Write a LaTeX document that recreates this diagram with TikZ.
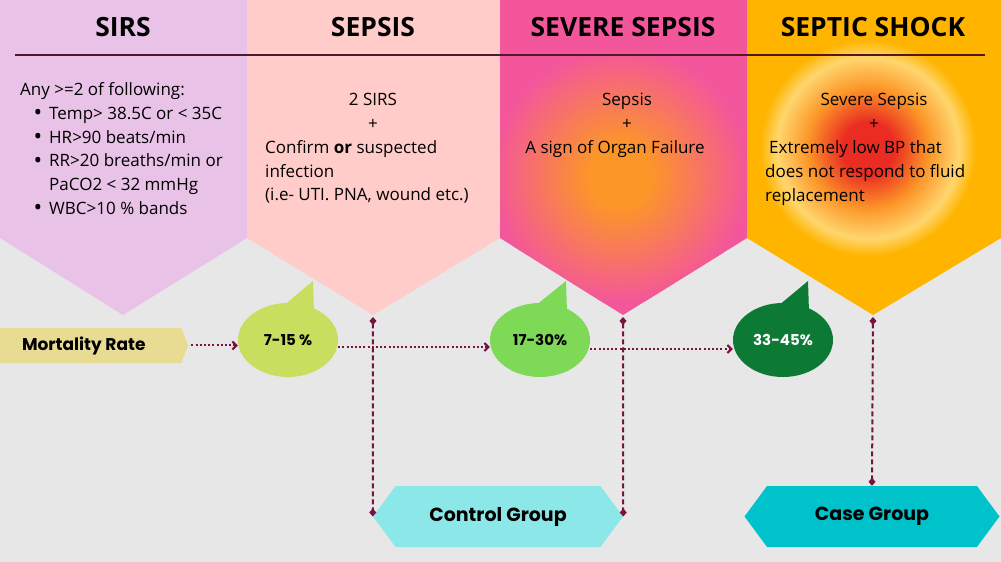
\documentclass[tikz,border=0pt]{standalone}
\usepackage{fontspec}
\setmainfont{Open Sans}
\newfontfamily\headfont{Open Sans}
\newfontfamily\tagfont{Poppins}
\usetikzlibrary{shapes.geometric,shapes.symbols,arrows.meta,calc}

\definecolor{severefill}{RGB}{243,86,155}
\definecolor{shockfill}{RGB}{255,180,0}
\definecolor{glowred}{RGB}{234,44,34}
\definecolor{gloworange}{RGB}{252,150,40}
\definecolor{glowpale}{RGB}{255,214,110}
\pgfdeclareradialshading{severeglow}{\pgfpoint{0bp}{0bp}}{color(0bp)=(gloworange); color(6bp)=(gloworange); color(25bp)=(severefill); color(50bp)=(severefill)}
\pgfdeclareradialshading{shockglow}{\pgfpoint{0bp}{0bp}}{color(0bp)=(glowred); color(6bp)=(glowred); color(14bp)=(gloworange); color(21bp)=(glowpale); color(25bp)=(shockfill); color(50bp)=(shockfill)}

\newcommand{\bul}{\makebox[29bp][r]{\raisebox{-1.5bp}{\fontsize{23bp}{23bp}\selectfont\textbullet}\hspace{7bp}}}

\begin{document}
\begin{tikzpicture}[x=1bp, y=-1bp,
				every node/.style={inner sep=0pt},
				head/.style={font=\headfont\bfseries\fontsize{26.5bp}{30bp}\selectfont},
				body/.style={font=\fontsize{17bp}{23.7bp}\selectfont, align=left},
				bubble/.style={ellipse, minimum width=100bp, minimum height=74bp, font=\tagfont\bfseries\fontsize{15bp}{18bp}\selectfont},
				tag/.style={signal, signal to=east, signal pointer angle=137, minimum height=35bp, minimum width=188bp, fill=mortfill, font=\tagfont\bfseries\fontsize{17bp}{20bp}\selectfont},
				group/.style={signal, signal to=east and west, signal pointer angle=107, minimum height=61bp, font=\tagfont\bfseries\fontsize{19bp}{22bp}\selectfont},
				dotarrow/.style={line width=2bp, draw=linkcol, dash pattern=on 2bp off 2.2bp, -{Straight Barb[length=4bp,width=8bp]}},
				link/.style={line width=2bp, draw=linkcol, dash pattern=on 5bp off 3bp, {Diamond[length=8bp,width=7bp]}-{Diamond[length=8bp,width=7bp]}}]

	\definecolor{paper}{RGB}{231,231,231}
	\definecolor{sirsfill}{RGB}{233,194,232}
	\definecolor{sepsisfill}{RGB}{255,204,201}
	\definecolor{rulecol}{RGB}{80,24,40}
	\definecolor{linkcol}{RGB}{122,18,64}
	\definecolor{mortfill}{RGB}{232,220,146}
	\definecolor{limefill}{RGB}{200,222,94}
	\definecolor{greenfill}{RGB}{126,217,87}
	\definecolor{darkfill}{RGB}{12,122,52}
	\definecolor{controlfill}{RGB}{140,232,232}
	\definecolor{casefill}{RGB}{0,194,203}

	\fill[paper] (0,0) rectangle (1001,562);
	\useasboundingbox (0,0) rectangle (1001,562);

	% stage columns
	\fill[sirsfill] (0,0) -- (247,0) -- (247,238) -- (123,315) -- (0,238) -- cycle;
	\fill[sepsisfill] (247,0) -- (500,0) -- (500,238) -- (373,315) -- (247,238) -- cycle;
	\fill[severefill] (500,0) -- (747,0) -- (747,238) -- (623,315) -- (500,238) -- cycle;
	\fill[shockfill] (747,0) -- (1001,0) -- (1001,238) -- (873,315) -- (747,238) -- cycle;
	\begin{scope}
		\clip (500,0) -- (747,0) -- (747,238) -- (623,315) -- (500,238) -- cycle;
		\shade[shading=severeglow] (620,176) circle[radius=128bp];
	\end{scope}
	\begin{scope}
		\clip (747,0) -- (1001,0) -- (1001,238) -- (873,315) -- (747,238) -- cycle;
		\shade[shading=shockglow] (868,148) circle[radius=108bp];
	\end{scope}
	\coordinate (sepsis tip) at (373,315);
	\coordinate (severe tip) at (623,315);
	\coordinate (shock tip) at (873,315);

	\node[head] (sirs head) at (123,27) {SIRS};
	\node[head] (sepsis head) at (373,27) {SEPSIS};
	\node[head] (severe head) at (623,27) {SEVERE SEPSIS};
	\node[head] (shock head) at (873,27) {SEPTIC SHOCK};
	\draw[line width=1.5bp, rulecol] (15,55) -- (985,55);

	% multi-line nodes sit on the baseline of their last line
	\node[body, anchor=base west] (sirs text) at (20,214.2) {Any >=2 of following:\\
		\bul Temp> 38.5C or < 35C\\
		\bul HR>90 beats/min\\
		\bul RR>20 breaths/min or\\
		\hspace*{29bp}PaCO2 < 32 mmHg\\
		\bul WBC>10 \% bands};
	\node[body, align=center, anchor=base] (sepsis top) at (373,129.7) {2 SIRS\\+};
	\node[body, anchor=base west] (sepsis text) at (265,200.9) {Confirm \textbf{or} suspected\\infection\\(i.e- UTI. PNA, wound etc.)};
	\node[body, align=center, anchor=base] (severe top) at (627,129.7) {Sepsis\\+};
	\node[body, anchor=base] (severe text) at (615,154) {A sign of Organ Failure};
	\node[body, align=center, anchor=base] (shock top) at (874,129.7) {Severe Sepsis\\+};
	\node[body, anchor=base west] (shock text) at (765,201.4) {\hspace*{4bp}Extremely low BP that\\does not respond to fluid\\replacement};

	% mortality bubbles
	\node[tag, anchor=west] (mortality) at (0,345.5) {Mortality Rate\hspace*{14bp}};
	\fill[limefill] (283,306) -- (313,281) -- (314,312) -- cycle;
	\node[bubble, fill=limefill] (low) at (288,340) {7-15 \%};
	\fill[greenfill] (535,306) -- (566,281) -- (567,312) -- cycle;
	\node[bubble, fill=greenfill] (mid) at (540,340) {17-30\%};
	\fill[darkfill] (778,306) -- (808,281) -- (809,312) -- cycle;
	\node[bubble, fill=darkfill, text=white] (high) at (783,340) {33-45\%};

	\node[group, fill=controlfill, minimum width=250bp] (control) at (498,516.5) {Control Group};
	\node[group, fill=casefill, minimum width=255bp] (case) at (872,516.5) {Case Group};

	\draw[link, shorten <=2bp] (sepsis tip) -- (control.west);
	\draw[link, shorten <=2bp] (severe tip) -- (control.east);
	\draw[link, shorten <=2bp] (shock tip) -- (case.north);

	\draw[dotarrow, shorten <=3bp] (mortality.east) -- (low.west |- mortality.east);
	\draw[dotarrow] ([yshift=-7bp]low.east) -- ([yshift=-7bp]mid.west);
	\draw[dotarrow] ([yshift=-9bp]mid.east) -- ([yshift=-9bp]high.west);
\end{tikzpicture}
\end{document}
